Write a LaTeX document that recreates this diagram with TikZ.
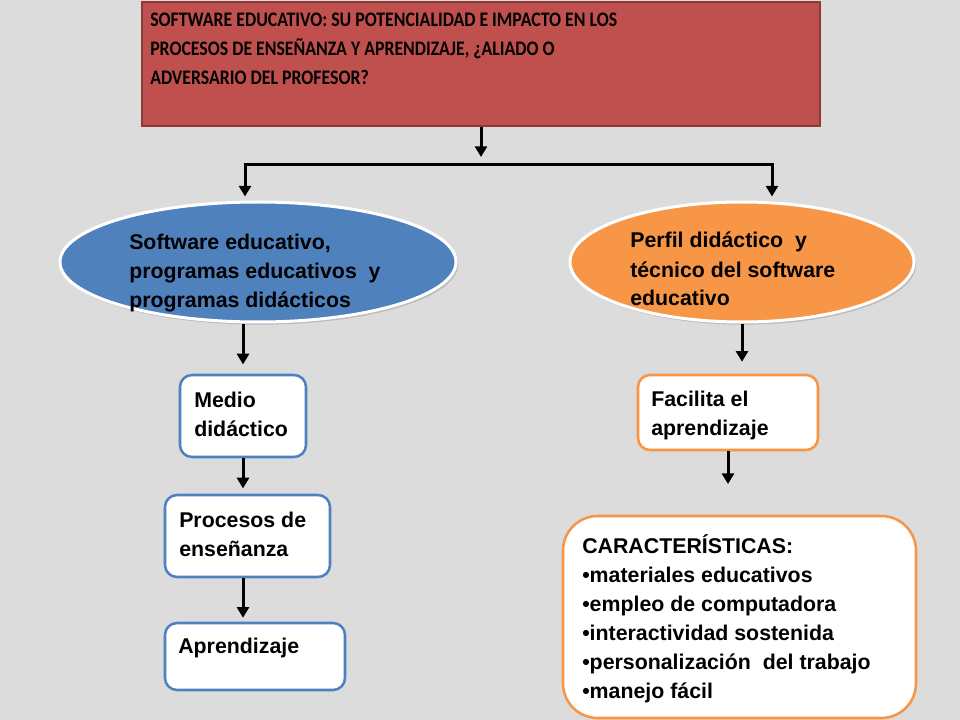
\documentclass[tikz,border=0pt]{standalone}
\usepackage{fontspec}
\setmainfont{Liberation Sans}
\newfontfamily\titlefont{Carlito}
\usetikzlibrary{shapes.geometric,arrows.meta,shadows,calc}
\definecolor{bg}{HTML}{DCDCDC}
\definecolor{titlered}{HTML}{C0504D}
\definecolor{titleborder}{HTML}{8C3A38}
\definecolor{accblue}{HTML}{4F81BD}
\definecolor{accorange}{HTML}{F79646}
\begin{document}
\begin{tikzpicture}[x=0.75pt,y=-0.75pt,
  arr/.style={line width=2.25pt,-{Triangle[length=8pt,width=9pt]}},
  barline/.style={line width=2.25pt},
  ellbase/.style={ellipse,draw=white,line width=2.25pt,inner sep=0pt,
    drop shadow={shadow xshift=1.5pt,shadow yshift=-2pt,opacity=0.35}},
  ellblue/.style={ellbase,fill=accblue},
  ellorange/.style={ellbase,fill=accorange},
  boxbase/.style={rectangle,rounded corners=9pt,fill=white,line width=1.9pt,inner sep=0pt},
  boxblue/.style={boxbase,draw=accblue},
  boxorange/.style={boxbase,draw=accorange},
  titlebox/.style={rectangle,fill=titlered,draw=titleborder,line width=1.5pt,inner sep=0pt},
  txt/.style={anchor=base west,inner sep=0pt,font=\bfseries\fontsize{16}{21.75}\selectfont},
  titletxt/.style={anchor=base west,inner sep=0pt,font=\titlefont\bfseries\fontsize{15.5}{21.75}\selectfont}
]
\useasboundingbox (0,0) rectangle (960,720);
\fill[bg] (0,0) rectangle (960,720);

% title
\node[titlebox,minimum width=508.5pt,minimum height=93pt] (title) at (481,64) {};
\node[titletxt] (titleT) at (150,27) {\scalebox{0.86}[1]{\begin{tabular}[t]{@{}l@{}}SOFTWARE EDUCATIVO: SU POTENCIALIDAD E IMPACTO EN LOS\\PROCESOS DE ENSEÑANZA Y APRENDIZAJE, ¿ALIADO O\\ADVERSARIO DEL PROFESOR?\end{tabular}}};

% ellipses
\node[ellblue,minimum width=297pt,minimum height=90pt] (ellL) at (258,262) {};
\node[ellorange,minimum width=258pt,minimum height=90pt] (ellR) at (742,262) {};
\node[txt] (ellLT) at (129,250) {\begin{tabular}[t]{@{}l@{}}Software educativo,\\programas educativos\ \ y\\programas didácticos\end{tabular}};
\node[txt] (ellRT) at (630,248) {\begin{tabular}[t]{@{}l@{}}Perfil didáctico\ \ y\\técnico del software\\educativo\end{tabular}};

% left boxes
\node[boxblue,minimum width=94.5pt,minimum height=61.5pt] (med) at (243,416) {};
\node[boxblue,minimum width=123.75pt,minimum height=61.5pt] (proc) at (247.5,536) {};
\node[boxblue,minimum width=135pt,minimum height=50.25pt] (apr) at (255,656.5) {};
\node[txt] (medT) at (194,407) {\begin{tabular}[t]{@{}l@{}}Medio\\didáctico\end{tabular}};
\node[txt] (procT) at (179,527) {\begin{tabular}[t]{@{}l@{}}Procesos de\\enseñanza\end{tabular}};
\node[txt] (aprT) at (178,653) {Aprendizaje};

% right boxes
\node[boxorange,minimum width=135pt,minimum height=56.25pt] (fac) at (728,412.5) {};
\node[boxorange,rounded corners=26pt,minimum width=264.75pt,minimum height=151.5pt] (car) at (739.5,617) {};
\node[txt] (facT) at (651,406) {\begin{tabular}[t]{@{}l@{}}Facilita el\\aprendizaje\end{tabular}};
\node[txt] (carT) at (582,553) {\begin{tabular}[t]{@{}l@{}}CARACTERÍSTICAS:\\•materiales educativos\\•empleo de computadora\\•interactividad sostenida\\•personalización\ \ del trabajo\\•manejo fácil\end{tabular}};

% connectors
\coordinate (barL) at (245,165);
\coordinate (barR) at (772,165);
\draw[arr,shorten >=6pt] (title.south) -- (title.south |- barL);
\draw[barline] ($(barL)+(-1.5,0)$) -- ($(barR)+(1.5,0)$);
\draw[arr,shorten >=3pt] (barL) -- (barL |- ellL.north);
\draw[arr,shorten >=3pt] (barR) -- (barR |- ellR.north);
\draw[arr,shorten >=7pt] (ellL.south -| med.north) -- (med.north);
\draw[arr,shorten >=4pt] (med.south) -- (med.south |- proc.north);
\draw[arr,shorten >=3pt] (med.south |- proc.south) -- (med.south |- apr.north);
\draw[arr,shorten >=9pt] (ellR.south) -- (ellR.south |- fac.north);
\draw[arr,shorten >=23pt] (fac.south) -- (fac.south |- car.north);
\end{tikzpicture}
\end{document}
